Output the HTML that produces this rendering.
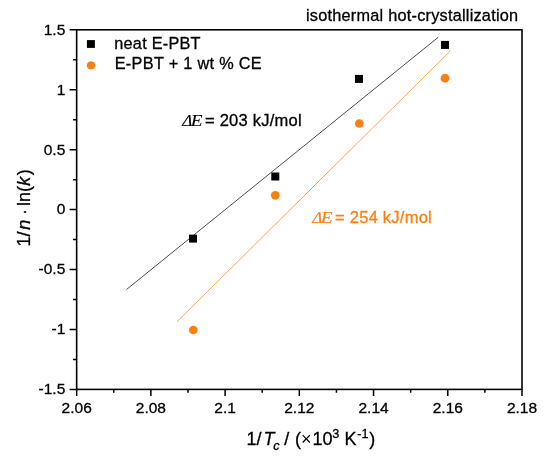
<!DOCTYPE html>
<html lang="en"><head><meta charset="utf-8"><title>isothermal hot-crystallization</title>
<style>html,body{margin:0;padding:0;background:#fff;}body{width:550px;height:459px;overflow:hidden;}svg{display:block;}text{font-family:"Liberation Sans", Arial, sans-serif;fill:#000;stroke:#000;stroke-width:0.3px;}.tk{font-size:15.5px;}.lg{font-size:16.3px;letter-spacing:0.23px;}.an{font-size:16.5px;letter-spacing:0.24px;}.ax{font-size:18px;}.it{font-style:italic;}.sm{font-size:12.7px;}.se{font-family:"Liberation Serif", "Times New Roman", serif;font-size:16.5px;}.or{fill:#ff7f0e;stroke:#ff7f0e;}.se{stroke-width:0.1px;}</style></head><body>
<svg width="550" height="459" viewBox="0 0 550 459">
<rect x="0" y="0" width="550" height="459" fill="#fff"/>
<line x1="126.5" y1="289.5" x2="438.3" y2="37.2" stroke="#3a3a3a" stroke-width="0.9"/>
<line x1="177" y1="321.7" x2="450.3" y2="51" stroke="#ff9a3c" stroke-width="0.9"/>
<rect x="76.65" y="29.80" width="445.35" height="359.60" fill="none" stroke="#000" stroke-width="1.6"/>
<path d="M76.65 29.80H69.6M76.65 59.77H73.0M76.65 89.73H69.6M76.65 119.70H73.0M76.65 149.67H69.6M76.65 179.63H73.0M76.65 209.60H69.6M76.65 239.57H73.0M76.65 269.53H69.6M76.65 299.50H73.0M76.65 329.47H69.6M76.65 359.43H73.0M76.65 389.40H69.6M76.65 389.40V396.0M113.76 389.40V392.7M150.88 389.40V396.0M187.99 389.40V392.7M225.10 389.40V396.0M262.21 389.40V392.7M299.33 389.40V396.0M336.44 389.40V392.7M373.55 389.40V396.0M410.66 389.40V392.7M447.78 389.40V396.0M484.89 389.40V392.7M522.00 389.40V396.0" stroke="#000" stroke-width="1.5" fill="none"/>
<text class="tk" x="65.3" y="34.6" text-anchor="end">1.5</text>
<text class="tk" x="65.3" y="94.5" text-anchor="end">1</text>
<text class="tk" x="65.3" y="154.5" text-anchor="end">0.5</text>
<text class="tk" x="65.3" y="214.4" text-anchor="end">0</text>
<text class="tk" x="65.3" y="274.3" text-anchor="end">-0.5</text>
<text class="tk" x="65.3" y="334.3" text-anchor="end">-1</text>
<text class="tk" x="65.3" y="394.2" text-anchor="end">-1.5</text>
<text class="tk" x="76.7" y="412.9" text-anchor="middle">2.06</text>
<text class="tk" x="150.9" y="412.9" text-anchor="middle">2.08</text>
<text class="tk" x="225.1" y="412.9" text-anchor="middle">2.1</text>
<text class="tk" x="299.3" y="412.9" text-anchor="middle">2.12</text>
<text class="tk" x="373.6" y="412.9" text-anchor="middle">2.14</text>
<text class="tk" x="447.8" y="412.9" text-anchor="middle">2.16</text>
<text class="tk" x="522.0" y="412.9" text-anchor="middle">2.18</text>
<rect x="189.0" y="234.6" width="8" height="8" fill="#000"/>
<rect x="271.3" y="172.5" width="8" height="8" fill="#000"/>
<rect x="355.0" y="74.9" width="8" height="8" fill="#000"/>
<rect x="441.0" y="40.9" width="8" height="8" fill="#000"/>
<circle cx="193.3" cy="330.0" r="4.35" fill="#ff7f0e"/>
<circle cx="275.3" cy="195.3" r="4.35" fill="#ff7f0e"/>
<circle cx="359.3" cy="123.5" r="4.35" fill="#ff7f0e"/>
<circle cx="445.0" cy="78.2" r="4.35" fill="#ff7f0e"/>
<rect x="86.9" y="40.1" width="8" height="7.8" fill="#000"/>
<circle cx="91" cy="65.4" r="4.2" fill="#ff7f0e"/>
<text class="lg" x="114.3" y="49.4">neat E-PBT</text>
<text class="lg" x="114.7" y="69.4" style="letter-spacing:0.3px">E-PBT + 1 wt % CE</text>
<text class="lg" x="306" y="20.9">isothermal hot-crystallization</text>
<text class="se bk" transform="translate(181.0 125.6) skewX(-17)">Δ</text>
<text class="se it bk" transform="translate(190.7 125.6) scale(1.17 1)">E</text>
<text class="an bk" x="205.0" y="125.6">= 203 kJ/mol</text>
<text class="se or" transform="translate(311.1 222.5) skewX(-17)">Δ</text>
<text class="se it or" transform="translate(320.8 222.5) scale(1.17 1)">E</text>
<text class="an or" x="335.1" y="222.5">= 254 kJ/mol</text>
<text class="ax" y="444.5"><tspan x="246.5">1/</tspan><tspan class="it" x="263.5">T</tspan><tspan class="it sm" x="273.2" dy="5.6">c</tspan><tspan x="284.3" dy="-5.6">/</tspan><tspan x="294.9">(</tspan><tspan x="301" dy="0.8" style="stroke-width:0">×</tspan><tspan x="312.4" dy="-0.8">10</tspan><tspan class="sm" x="332.2" dy="-6.8">3</tspan><tspan x="344.4" dy="6.8">K</tspan><tspan class="sm" x="357.2" dy="-6.8">-1</tspan><tspan x="369.2" dy="6.8">)</tspan></text>
<text class="ax" transform="rotate(-90)" y="30.4"><tspan x="-246.6">1/</tspan><tspan class="it" x="-229.8">n</tspan><tspan x="-214.9">·</tspan><tspan x="-206">ln(</tspan><tspan class="it" x="-185.7">k</tspan><tspan x="-175.3">)</tspan></text>
</svg></body></html>
